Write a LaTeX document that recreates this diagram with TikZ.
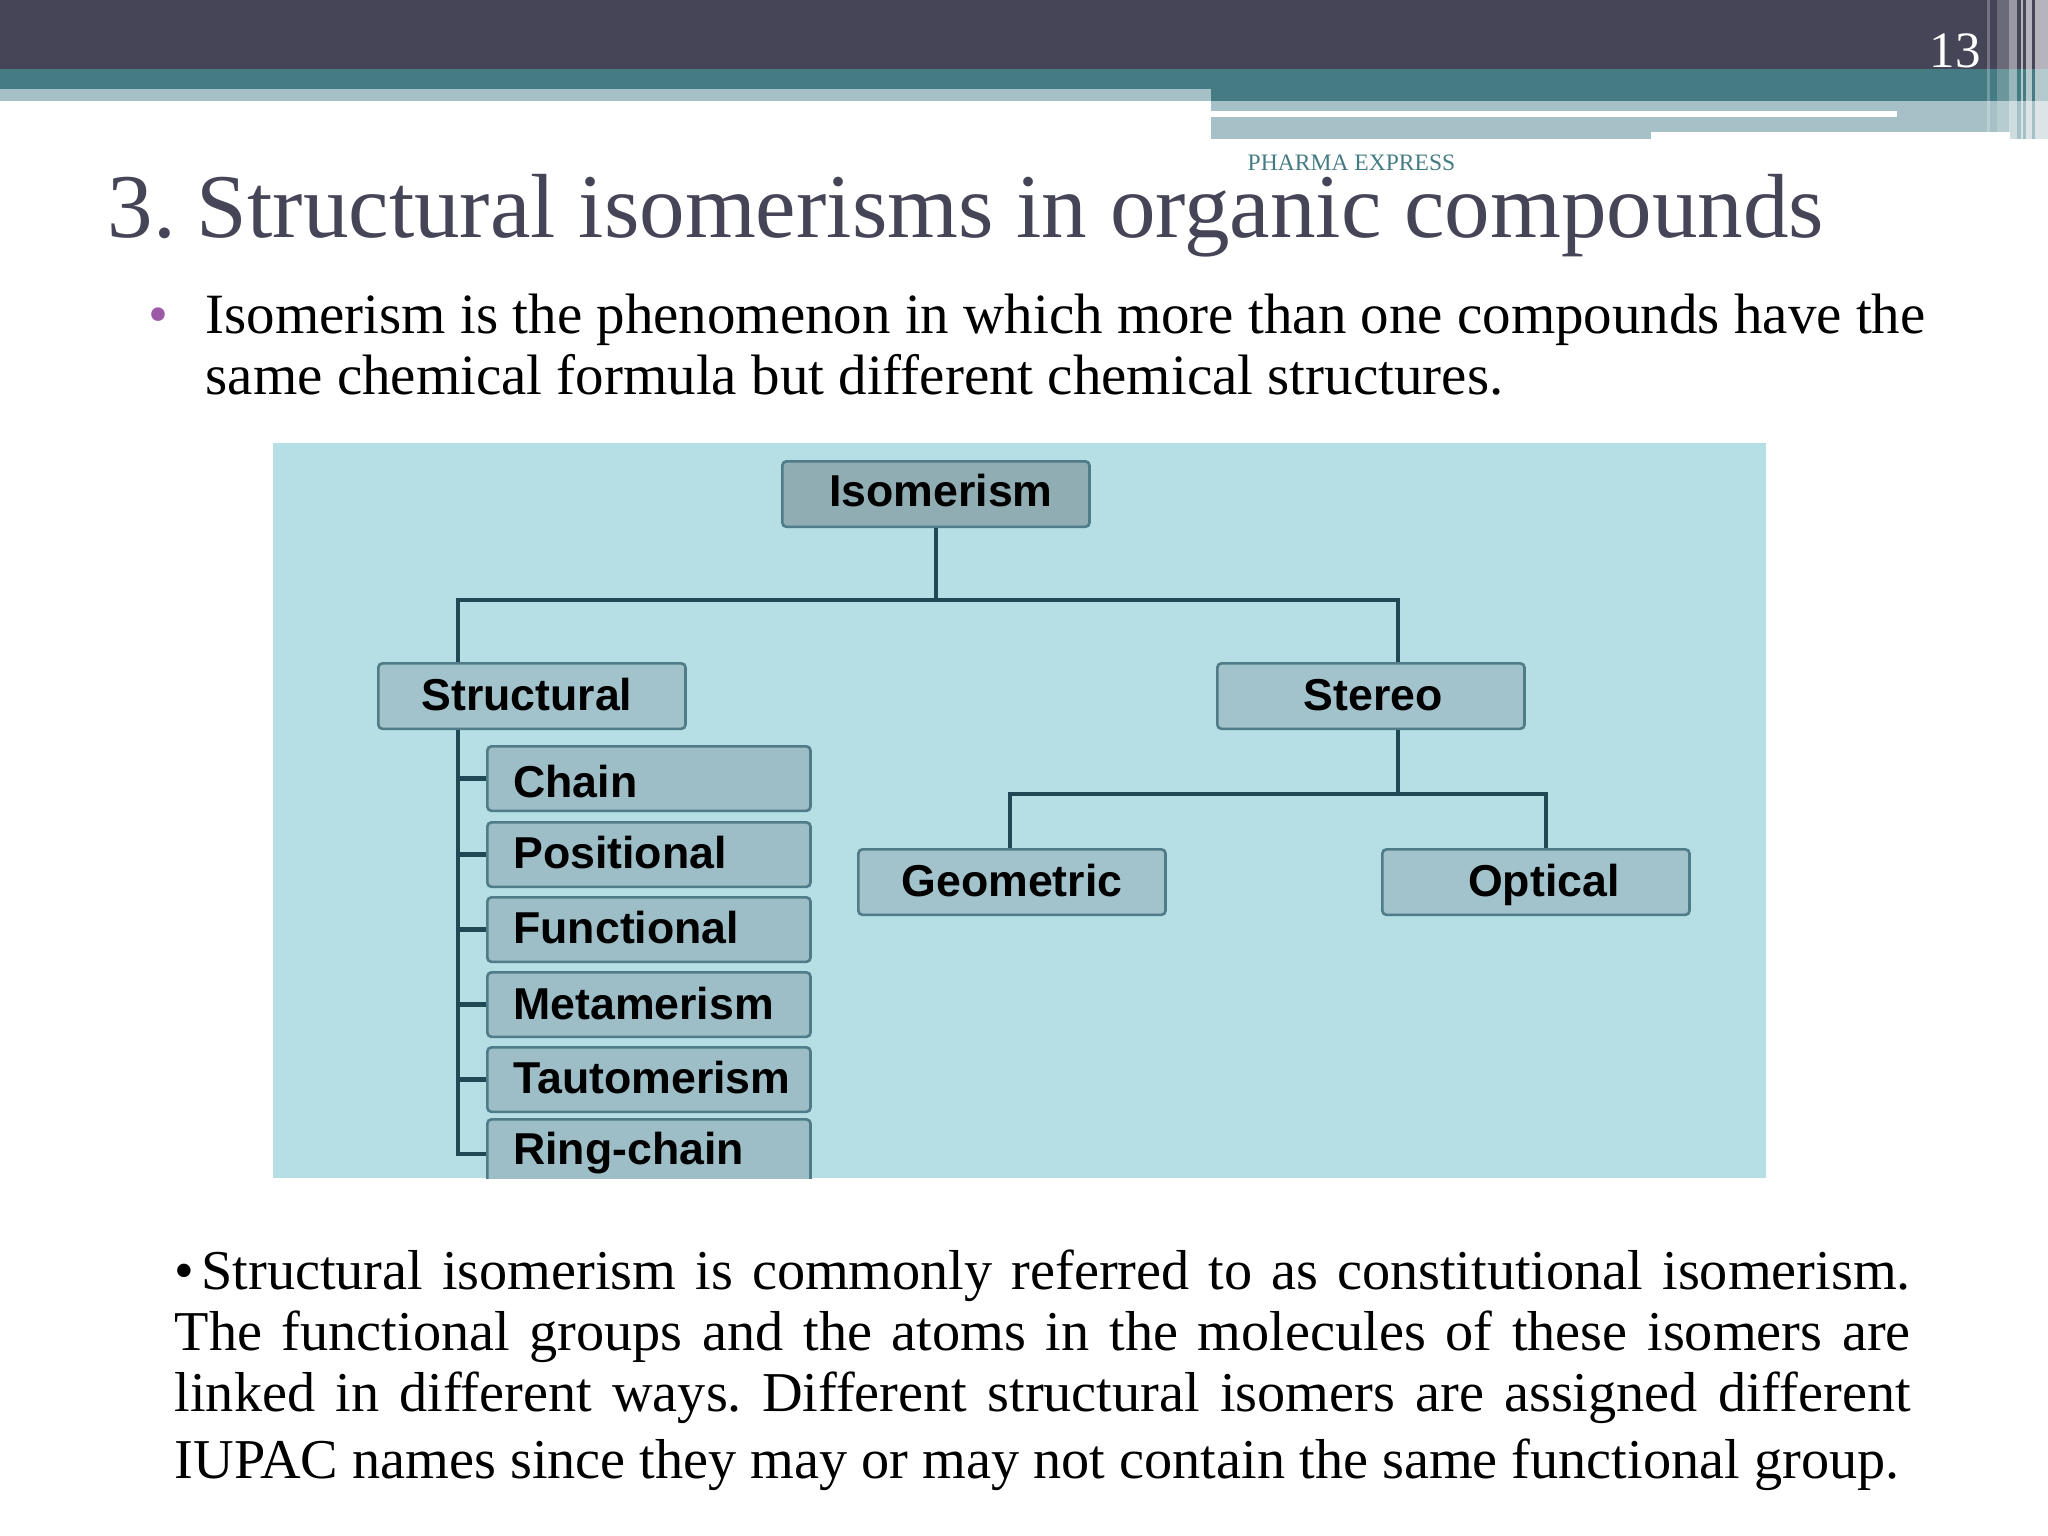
\documentclass[tikz,border=0pt]{standalone}
\usepackage{fontspec}
\setmainfont{Liberation Serif}
\newfontfamily\boxfont{Liberation Sans}
\definecolor{slateband}{HTML}{464558}
\definecolor{tealband}{HTML}{457C84}
\definecolor{paleband}{HTML}{A5C0C6}
\definecolor{panelblue}{HTML}{B5DFE5}
\definecolor{boxfill}{HTML}{A3C3CC}
\definecolor{subfill}{HTML}{9DBDC7}
\definecolor{rootfill}{HTML}{8FADB3}
\definecolor{boxedge}{HTML}{4F7C88}
\definecolor{wire}{HTML}{1F4A55}
\definecolor{bulletmauve}{HTML}{9B59A6}

\begin{document}
\frenchspacing
\begin{tikzpicture}
[x=0.01cm,y=-0.01cm,%
  intro/.style={inner sep=0pt,font=\fontsize{16.2}{19}\selectfont,anchor=base west},%
  note/.style={inner sep=0pt,font=\fontsize{16}{19}\selectfont,anchor=base west},%
  mainbox/.style={draw=boxedge,line width=0.75pt,rounded corners=1.2pt,fill=boxfill,inner sep=0pt,%
    minimum width=3.07cm,minimum height=0.655cm,text height=0.34cm,text depth=0.06cm,anchor=north west,%
    font=\boxfont\bfseries\fontsize{12.7}{14}\selectfont,text=black},%
  subbox/.style={draw=boxedge,line width=0.75pt,rounded corners=1.2pt,fill=subfill,inner xsep=0.26cm,inner ysep=0pt,%
    text width=2.71cm,minimum height=0.645cm,text height=0.34cm,text depth=0.06cm,anchor=north west,align=left,%
    font=\boxfont\bfseries\fontsize{12.7}{14}\selectfont,text=black},%
  link/.style={draw=wire,line width=1.2pt}]
\useasboundingbox (0,0) rectangle (2048,1536);
\fill[white] (0,0) rectangle (2048,1536);
% header bands
\fill[slateband] (0,0) rectangle (2048,69);
\fill[tealband] (0,69) rectangle (2048,89);
\fill[paleband] (0,89) rectangle (1211,101);
\fill[tealband] (1211,89) rectangle (2048,101);
\fill[paleband] (1211,101) rectangle (2048,139);
\fill[white] (1211,111) rectangle (1897,117);
\fill[white] (1651,132) rectangle (2010,139);
\fill[white,opacity=0.25] (1987,0) rectangle (1990,139);
\fill[white,opacity=0.2] (1997,0) rectangle (2009,139);
\fill[white,opacity=0.45] (2009,0) rectangle (2017,139);
\fill[white,opacity=0.6] (2021,0) rectangle (2023,139);
\fill[white,opacity=0.6] (2026,0) rectangle (2032,139);
\fill[white,opacity=0.6] (2035,0) rectangle (2048,139);
\node[anchor=base,inner sep=0pt,text=white,font=\fontsize{14.5}{16}\selectfont] (pagenum) at (1955,67) {13};
\node[anchor=base west,inner sep=0pt,text=tealband,font=\fontsize{6.7}{8}\selectfont] (brand) at (1247,170) {PHARMA EXPRESS};
\node[anchor=base west,inner sep=0pt,text=slateband,font=\fontsize{25.9}{30}\selectfont] (title) at (107,237) {3.\hspace{-0.02cm} Structural isomerisms in organic compounds};
\node[intro,text=bulletmauve] (dot) at (148,333) {•};
\node[intro] (introa) at (205,333) {Isomerism is the phenomenon in which more than one compounds have the};
\node[intro] (introb) at (205,394) {same chemical formula but different chemical structures.};
% panel
\fill[panelblue] (273,443) rectangle (1766,1178);
\node[mainbox,fill=rootfill,text height=0.30cm] (isomerism) at (781,460) {\hspace*{0.1cm}Isomerism};
\node[mainbox] (structural) at (377,662) {Structural\hspace*{0.1cm}};
\node[mainbox] (stereo) at (1216,662) {\hspace*{0.05cm}Stereo};
\node[mainbox] (geometric) at (857,848) {Geometric};
\node[mainbox] (optical) at (1381,848) {\hspace*{0.16cm}Optical};
\node[subbox,text height=0.44cm] (chain) at (486,745) {Chain};
\node[subbox] (positional) at (486,821) {Positional};
\node[subbox] (functional) at (486,896) {Functional};
\node[subbox,text height=0.36cm] (metamerism) at (486,971) {Metamerism};
\node[subbox] (tautomerism) at (486,1046) {Tautomerism};
\begin{scope}
\clip (273,443) rectangle (1766,1178);
\node[subbox,text height=0.45cm,text depth=0.9cm] (ringchain) at (486,1118) {Ring-chain};
\end{scope}
\coordinate (treeleft) at (458,600);
\coordinate (treeright) at (1398,600);
\coordinate (treemid) at (936,600);
\coordinate (forkleft) at (1010,794);
\coordinate (forkright) at (1546,794);
\coordinate (stereodrop) at (1398,794);
\coordinate (ringtail) at (486,1154);
\draw[link] (isomerism.south -| treemid) -- (treemid);
\draw[link] (structural.north -| treeleft) -- (treeleft) -- (treeright) -- (stereo.north -| treeright);
\draw[link] (stereo.south -| treeright) -- (stereodrop);
\draw[link] (geometric.north -| forkleft) -- (forkleft) -- (forkright) -- (optical.north -| forkright);
\draw[link] (structural.south -| treeleft) |- (ringtail);
\draw[link] (chain.west) -- (chain.west -| treeleft);
\draw[link] (positional.west) -- (positional.west -| treeleft);
\draw[link] (functional.west) -- (functional.west -| treeleft);
\draw[link] (metamerism.west) -- (metamerism.west -| treeleft);
\draw[link] (tautomerism.west) -- (tautomerism.west -| treeleft);
% closing paragraph
\node[note] (notea) at (174,1289) {\makebox[17.35cm][s]{•\hspace{0.07cm}Structural isomerism is commonly referred to as constitutional isomerism.}};
\node[note] (noteb) at (174,1350) {\makebox[17.35cm][s]{The functional groups and the atoms in the molecules of these isomers are}};
\node[note] (notec) at (174,1411) {\makebox[17.35cm][s]{linked in different ways. Different structural isomers are assigned different}};
\node[note] (noted) at (174,1478) {IUPAC names since they may or may not contain the same functional group.};
\end{tikzpicture}
\end{document}
